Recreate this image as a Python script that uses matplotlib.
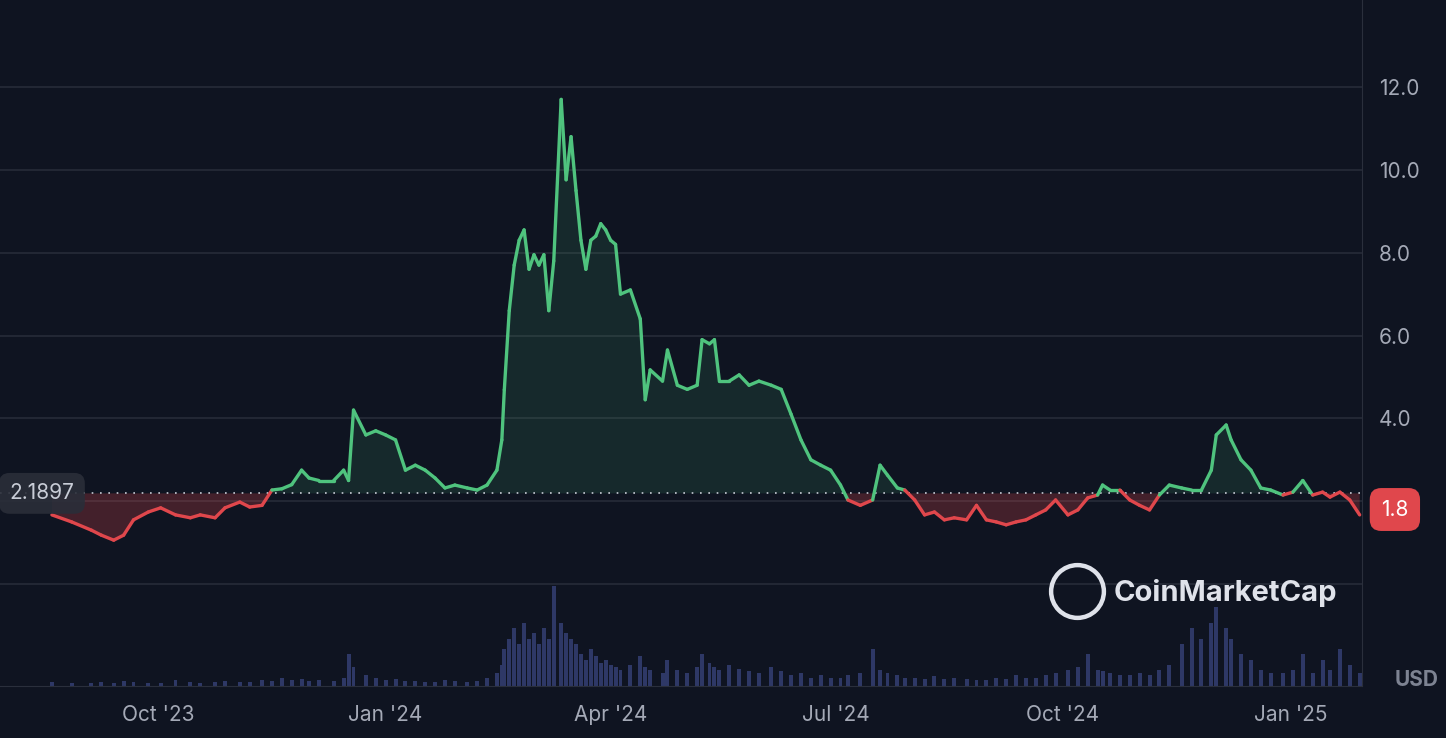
import numpy as np
import matplotlib.pyplot as plt
from matplotlib.collections import LineCollection
from matplotlib.lines import Line2D
import datetime as dt
import matplotlib.dates as mdates

plt.rcParams['font.family'] = ['Inter', 'DejaVu Sans']

# days since 2023-08-01 and price (USD)
days = [18, 26, 34, 38, 43, 47, 51, 57, 62, 68, 74, 78, 84, 88, 94, 98, 103, 107, 111, 115,
        119, 122, 126, 132, 136, 138, 140, 145, 149, 153, 157, 161, 165, 169, 173, 177, 181, 186, 190, 194,
        198, 200, 201, 203, 205, 207, 209, 211, 213, 215, 217, 219, 221, 224, 226, 228, 230, 232, 234, 236,
        238, 240, 242, 244, 246, 248, 252, 256, 258, 260, 265, 267, 271, 275, 279, 281, 284, 286, 288, 292,
        296, 300, 304, 309, 313, 317, 321, 325, 329, 333, 337, 340, 345, 350, 353, 356, 360, 363, 367, 371,
        375, 379, 383, 388, 392, 396, 400, 404, 408, 412, 416, 420, 424, 429, 433, 437, 441, 443, 446, 450,
        454, 458, 462, 466, 470, 475, 479, 483, 487, 489, 493, 495, 499, 503, 507, 511, 516, 520, 524, 528,
        532, 535, 539, 543, 547]
price = [1.67, 1.5, 1.3, 1.18, 1.06, 1.18, 1.55, 1.74, 1.84, 1.67, 1.6, 1.67, 1.6, 1.84, 1.98, 1.86, 1.9, 2.27, 2.3, 2.4,
         2.75, 2.56, 2.5, 2.5, 2.75, 2.5, 4.2, 3.6, 3.7, 3.6, 3.48, 2.75, 2.87, 2.75, 2.56, 2.32, 2.39, 2.32, 2.27, 2.39,
         2.75, 3.48, 4.69, 6.6, 7.7, 8.3, 8.55, 7.6, 7.95, 7.7, 7.95, 6.6, 7.8, 11.7, 9.76, 10.8, 9.5, 8.3, 7.6, 8.3,
         8.4, 8.7, 8.55, 8.3, 8.2, 7.0, 7.1, 6.4, 4.45, 5.17, 4.9, 5.65, 4.8, 4.7, 4.8, 5.9, 5.8, 5.9, 4.9, 4.9,
         5.05, 4.8, 4.9, 4.8, 4.7, 4.1, 3.48, 3.0, 2.87, 2.75, 2.39, 2.03, 1.9, 2.03, 2.87, 2.63, 2.32, 2.27, 2.03, 1.67,
         1.74, 1.55, 1.6, 1.55, 1.9, 1.55, 1.5, 1.43, 1.5, 1.55, 1.67, 1.79, 2.03, 1.67, 1.79, 2.08, 2.15, 2.39, 2.27, 2.27,
         2.03, 1.9, 1.79, 2.15, 2.39, 2.32, 2.27, 2.27, 2.75, 3.6, 3.84, 3.48, 3.0, 2.75, 2.32, 2.27, 2.15, 2.22, 2.5, 2.15,
         2.22, 2.1, 2.22, 2.03, 1.67]
# 24h volume (relative units), sampled at the same days
volume = [4, 3, 3, 4, 3, 5, 4, 3, 3, 6, 4, 3, 4, 5, 4, 4, 6, 5, 8, 6,
          7, 5, 6, 5, 8, 30, 18, 10, 8, 6, 7, 5, 5, 4, 4, 6, 5, 4, 5, 8,
          12, 20, 35, 45, 55, 40, 60, 45, 50, 40, 55, 45, 95, 60, 50, 45, 40, 30, 25, 35,
          28, 22, 25, 20, 18, 15, 20, 28, 18, 15, 12, 25, 15, 12, 18, 30, 22, 18, 15, 20,
          16, 14, 12, 18, 14, 10, 12, 8, 10, 8, 8, 10, 12, 35, 15, 12, 10, 8, 8, 7,
          9, 7, 8, 7, 6, 6, 8, 7, 10, 8, 8, 10, 12, 15, 18, 30, 15, 14, 12, 10,
          10, 12, 10, 15, 20, 40, 55, 45, 60, 75, 55, 45, 30, 25, 15, 12, 12, 15, 30, 12,
          25, 15, 35, 20, 12]

base = 2.1897
last = 1.8

bg = '#0f1421'
green = '#4fc37e'
red = '#e0474c'
txtc = '#a4a9b6'

t0 = dt.date(2023, 8, 1)
xd = np.array([mdates.date2num(t0 + dt.timedelta(days=d)) for d in days])
yp = np.array(price)

fig = plt.figure(figsize=(14.46, 7.38), dpi=100, facecolor=bg)
ax = fig.add_axes([0, 0.0705, 0.942, 0.9295])
ax.set_facecolor(bg)

axv = ax.twinx()
axv.bar(xd, volume, width=1.6, color='#2e3866', zorder=1)
axv.set_ylim(0, max(volume) * 6.86)
axv.axis('off')

ax.set_zorder(axv.get_zorder() + 1)
ax.patch.set_visible(False)

for g in range(0, 14, 2):
    ax.axhline(g, color='#262b38', lw=1.2, zorder=0)

ax.fill_between(xd, yp, base, where=yp >= base, interpolate=True, color=green, alpha=0.12, lw=0)
ax.fill_between(xd, yp, base, where=yp < base, interpolate=True, color=red, alpha=0.25, lw=0)

pts = np.column_stack([xd, yp]).reshape(-1, 1, 2)
segs = np.concatenate([pts[:-1], pts[1:]], axis=1)
mid = (yp[:-1] + yp[1:]) / 2
cols = [green if m >= base else red for m in mid]
ax.add_collection(LineCollection(segs, colors=cols, lw=2.4, zorder=3, capstyle='round', joinstyle='round'))

ax.axhline(base, color='#c8ccd6', lw=1.2, ls=(0, (1, 4)), zorder=2)

ax.set_xlim(mdates.date2num(t0 - dt.timedelta(days=3)), mdates.date2num(t0 + dt.timedelta(days=548)))
ax.set_ylim(-2.46, 14.1)

ax.yaxis.tick_right()
ax.set_yticks([4, 6, 8, 10, 12])
ax.set_yticklabels(['4.0', '6.0', '8.0', '10.0', '12.0'])
ax.tick_params(axis='y', length=0, pad=12, labelsize=15, colors=txtc)

ticks = [dt.date(2023, 10, 1), dt.date(2024, 1, 1), dt.date(2024, 4, 1), dt.date(2024, 7, 1),
         dt.date(2024, 10, 1), dt.date(2025, 1, 1)]
labels = ["Oct '23", "Jan '24", "Apr '24", "Jul '24", "Oct '24", "Jan '25"]
ax.set_xticks([mdates.date2num(t) for t in ticks])
ax.set_xticklabels(labels)
ax.tick_params(axis='x', length=0, pad=14, labelsize=15, colors=txtc)

for s in ['top', 'left']:
    ax.spines[s].set_visible(False)
ax.spines['right'].set_color('#2a2f3c')
ax.spines['bottom'].set_color('#2a2f3c')

ax.text(0.007, base, f'{base}', transform=ax.get_yaxis_transform(), fontsize=15, color='#c8ccd6',
        va='center', ha='left',
        bbox=dict(boxstyle='round,pad=0.5', fc='#2a2e39', ec='none', alpha=0.9), zorder=5)
ax.text(1.014, last, f'{last}', transform=ax.get_yaxis_transform(), fontsize=15, color='white',
        va='center', ha='left',
        bbox=dict(boxstyle='round,pad=0.55', fc=red, ec='none'), zorder=5, clip_on=False)

fig.text(0.995, 0.078, 'USD', fontsize=15, color='#7d8392', ha='right', va='center', weight='bold')

# watermark
fig.text(0.770, 0.197, 'CoinMarketCap', fontsize=21, color='#dfe2ea', ha='left', va='center', weight='bold')
fig.add_artist(Line2D([0.7445], [0.199], transform=fig.transFigure, marker='o', ms=38,
                      mfc='none', mec='#dfe2ea', mew=3.2))

fig.savefig('out.png', dpi=100, facecolor=bg)
